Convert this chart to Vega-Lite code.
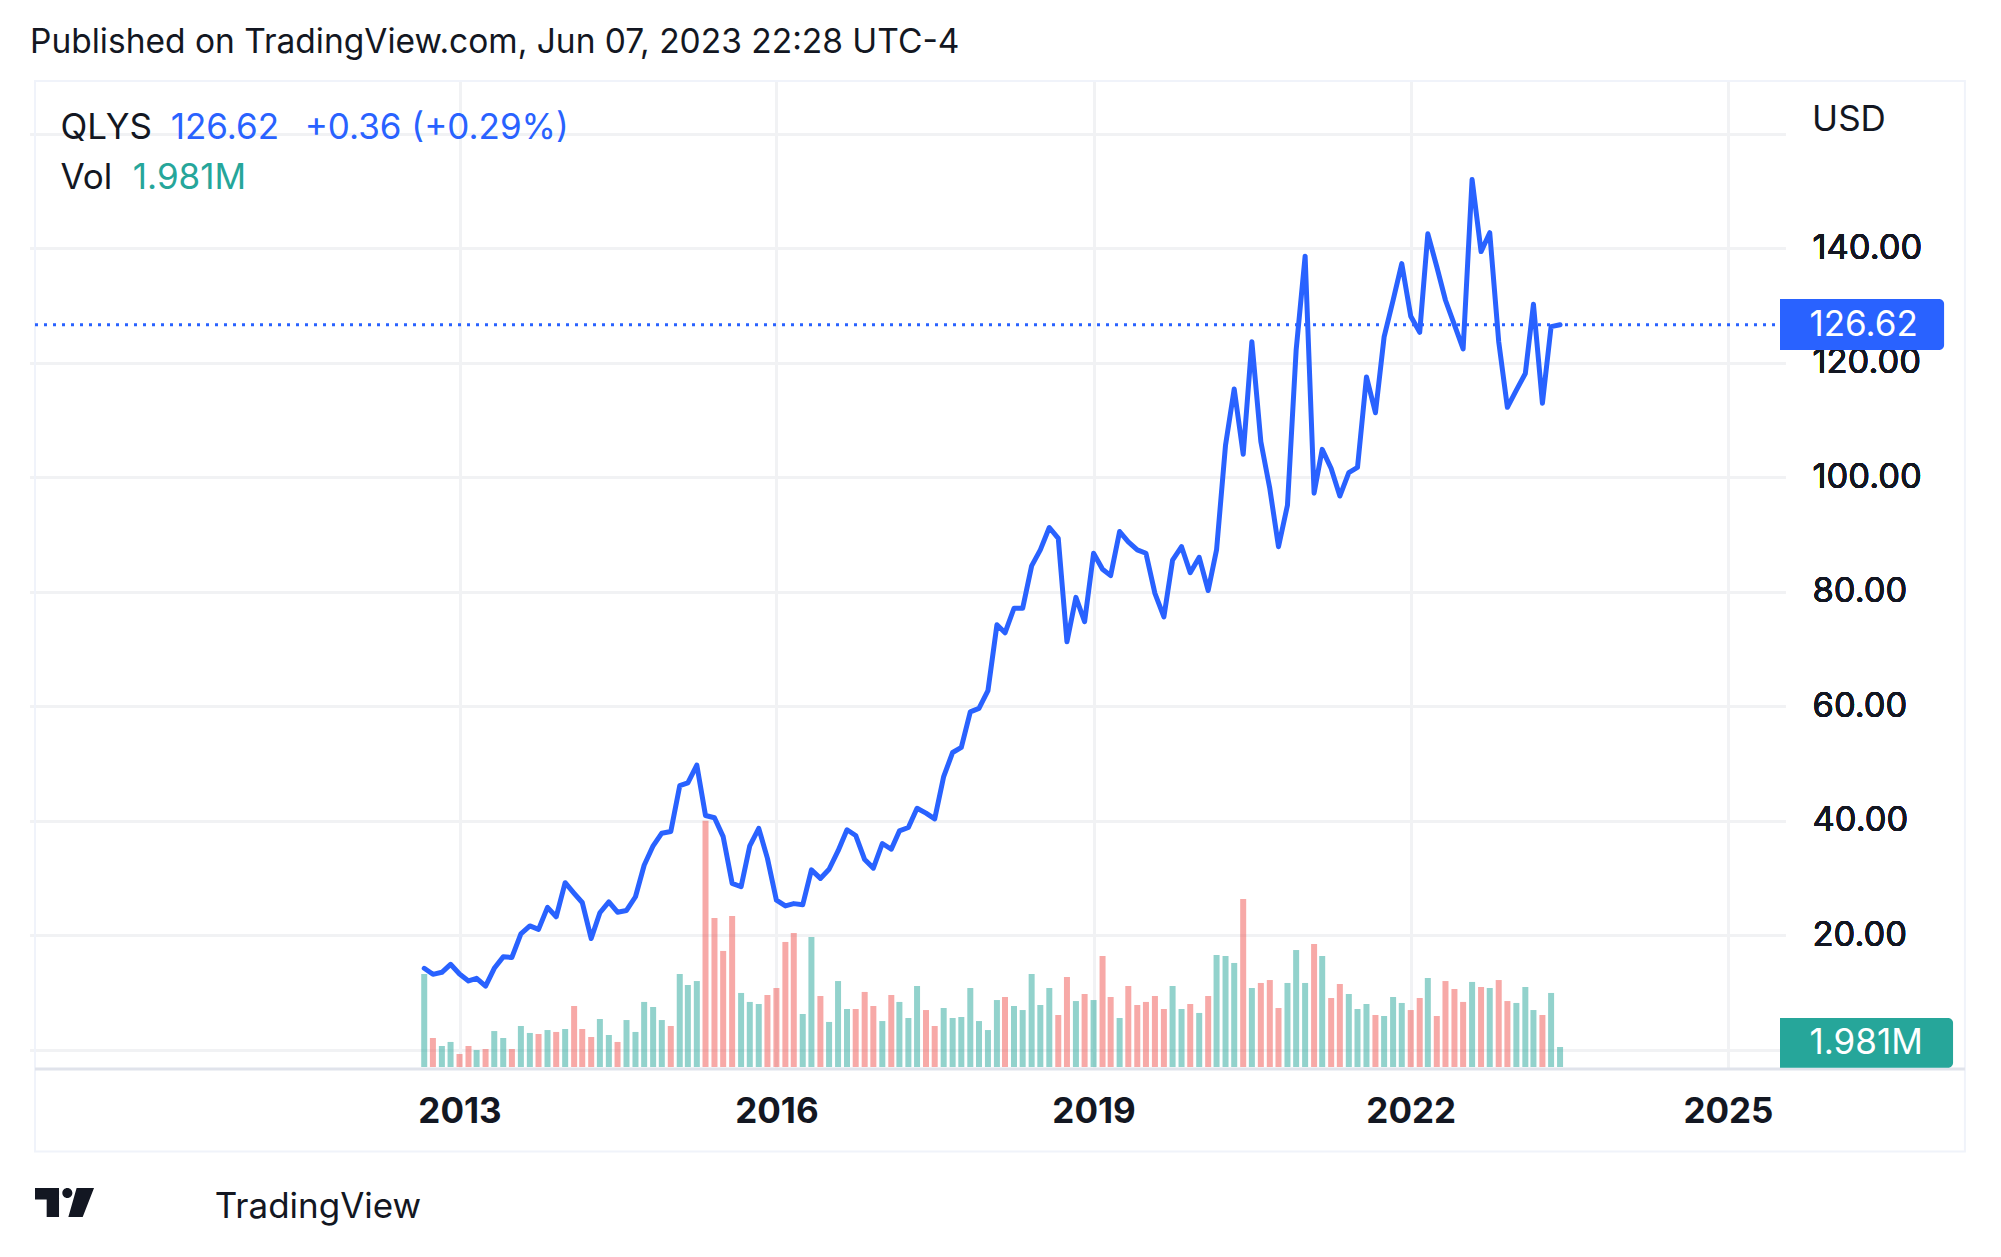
{
  "$schema": "https://vega.github.io/schema/vega-lite/v6.json",
  "description": "QLYS monthly close and volume, TradingView style",
  "width": 1755,
  "height": 988,
  "autosize": "none",
  "padding": {"left": 30, "top": 81, "right": 216, "bottom": 188},
  "background": "#ffffff",
  "title": {
    "text": "Published on TradingView.com, Jun 07, 2023 22:28 UTC-4",
    "anchor": "start",
    "frame": "group",
    "font": "Inter",
    "fontSize": 33.5,
    "fontWeight": "normal",
    "color": "#131722",
    "offset": 20
  },
  "config": {"view": {"stroke": null}},
  "datasets": {
    "series": [
      {"date": "2012-09-01", "price": 14.2, "volume": 9.21, "kind": "up"},
      {"date": "2012-10-01", "price": 13.15, "volume": 2.87, "kind": "down"},
      {"date": "2012-11-01", "price": 13.5, "volume": 2.08, "kind": "up"},
      {"date": "2012-12-01", "price": 14.9, "volume": 2.48, "kind": "up"},
      {"date": "2013-01-01", "price": 13.2, "volume": 1.29, "kind": "down"},
      {"date": "2013-02-01", "price": 12.0, "volume": 2.08, "kind": "down"},
      {"date": "2013-03-01", "price": 12.45, "volume": 1.68, "kind": "up"},
      {"date": "2013-04-01", "price": 11.1, "volume": 1.78, "kind": "down"},
      {"date": "2013-05-01", "price": 14.2, "volume": 3.56, "kind": "up"},
      {"date": "2013-06-01", "price": 16.2, "volume": 2.87, "kind": "up"},
      {"date": "2013-07-01", "price": 16.1, "volume": 1.78, "kind": "down"},
      {"date": "2013-08-01", "price": 20.2, "volume": 4.06, "kind": "up"},
      {"date": "2013-09-01", "price": 21.6, "volume": 3.37, "kind": "up"},
      {"date": "2013-10-01", "price": 21.0, "volume": 3.27, "kind": "down"},
      {"date": "2013-11-01", "price": 24.85, "volume": 3.66, "kind": "up"},
      {"date": "2013-12-01", "price": 23.2, "volume": 3.47, "kind": "down"},
      {"date": "2014-01-01", "price": 29.15, "volume": 3.76, "kind": "up"},
      {"date": "2014-02-01", "price": 27.3, "volume": 6.04, "kind": "down"},
      {"date": "2014-03-01", "price": 25.7, "volume": 3.76, "kind": "down"},
      {"date": "2014-04-01", "price": 19.4, "volume": 2.97, "kind": "down"},
      {"date": "2014-05-01", "price": 23.9, "volume": 4.75, "kind": "up"},
      {"date": "2014-06-01", "price": 25.8, "volume": 3.17, "kind": "up"},
      {"date": "2014-07-01", "price": 24.0, "volume": 2.48, "kind": "down"},
      {"date": "2014-08-01", "price": 24.3, "volume": 4.65, "kind": "up"},
      {"date": "2014-09-01", "price": 26.7, "volume": 3.47, "kind": "up"},
      {"date": "2014-10-01", "price": 32.2, "volume": 6.44, "kind": "up"},
      {"date": "2014-11-01", "price": 35.6, "volume": 5.94, "kind": "up"},
      {"date": "2014-12-01", "price": 37.8, "volume": 4.65, "kind": "up"},
      {"date": "2015-01-01", "price": 38.1, "volume": 4.06, "kind": "down"},
      {"date": "2015-02-01", "price": 46.1, "volume": 9.21, "kind": "up"},
      {"date": "2015-03-01", "price": 46.6, "volume": 8.12, "kind": "up"},
      {"date": "2015-04-01", "price": 49.7, "volume": 8.51, "kind": "up"},
      {"date": "2015-05-01", "price": 40.9, "volume": 24.39, "kind": "down"},
      {"date": "2015-06-01", "price": 40.5, "volume": 14.75, "kind": "down"},
      {"date": "2015-07-01", "price": 37.2, "volume": 11.49, "kind": "down"},
      {"date": "2015-08-01", "price": 29.05, "volume": 14.95, "kind": "down"},
      {"date": "2015-09-01", "price": 28.45, "volume": 7.33, "kind": "up"},
      {"date": "2015-10-01", "price": 35.6, "volume": 6.44, "kind": "up"},
      {"date": "2015-11-01", "price": 38.65, "volume": 6.24, "kind": "up"},
      {"date": "2015-12-01", "price": 33.4, "volume": 7.13, "kind": "down"},
      {"date": "2016-01-01", "price": 26.1, "volume": 7.82, "kind": "down"},
      {"date": "2016-02-01", "price": 25.1, "volume": 12.38, "kind": "down"},
      {"date": "2016-03-01", "price": 25.5, "volume": 13.27, "kind": "down"},
      {"date": "2016-04-01", "price": 25.3, "volume": 5.25, "kind": "up"},
      {"date": "2016-05-01", "price": 31.4, "volume": 12.87, "kind": "up"},
      {"date": "2016-06-01", "price": 29.9, "volume": 7.03, "kind": "down"},
      {"date": "2016-07-01", "price": 31.5, "volume": 4.46, "kind": "up"},
      {"date": "2016-08-01", "price": 34.7, "volume": 8.51, "kind": "up"},
      {"date": "2016-09-01", "price": 38.4, "volume": 5.74, "kind": "up"},
      {"date": "2016-10-01", "price": 37.4, "volume": 5.74, "kind": "down"},
      {"date": "2016-11-01", "price": 33.2, "volume": 7.43, "kind": "down"},
      {"date": "2016-12-01", "price": 31.7, "volume": 6.04, "kind": "down"},
      {"date": "2017-01-01", "price": 36.0, "volume": 4.55, "kind": "up"},
      {"date": "2017-02-01", "price": 35.0, "volume": 7.13, "kind": "down"},
      {"date": "2017-03-01", "price": 38.2, "volume": 6.44, "kind": "up"},
      {"date": "2017-04-01", "price": 38.8, "volume": 4.85, "kind": "up"},
      {"date": "2017-05-01", "price": 42.15, "volume": 8.02, "kind": "up"},
      {"date": "2017-06-01", "price": 41.3, "volume": 5.64, "kind": "down"},
      {"date": "2017-07-01", "price": 40.3, "volume": 4.06, "kind": "down"},
      {"date": "2017-08-01", "price": 47.7, "volume": 5.84, "kind": "up"},
      {"date": "2017-09-01", "price": 51.9, "volume": 4.85, "kind": "up"},
      {"date": "2017-10-01", "price": 52.8, "volume": 4.95, "kind": "up"},
      {"date": "2017-11-01", "price": 59.0, "volume": 7.82, "kind": "up"},
      {"date": "2017-12-01", "price": 59.6, "volume": 4.55, "kind": "up"},
      {"date": "2018-01-01", "price": 62.7, "volume": 3.66, "kind": "up"},
      {"date": "2018-02-01", "price": 74.2, "volume": 6.63, "kind": "up"},
      {"date": "2018-03-01", "price": 72.8, "volume": 6.93, "kind": "down"},
      {"date": "2018-04-01", "price": 77.1, "volume": 6.04, "kind": "up"},
      {"date": "2018-05-01", "price": 77.1, "volume": 5.64, "kind": "up"},
      {"date": "2018-06-01", "price": 84.5, "volume": 9.21, "kind": "up"},
      {"date": "2018-07-01", "price": 87.3, "volume": 6.14, "kind": "up"},
      {"date": "2018-08-01", "price": 91.2, "volume": 7.82, "kind": "up"},
      {"date": "2018-09-01", "price": 89.3, "volume": 5.15, "kind": "down"},
      {"date": "2018-10-01", "price": 71.25, "volume": 8.91, "kind": "down"},
      {"date": "2018-11-01", "price": 79.0, "volume": 6.53, "kind": "up"},
      {"date": "2018-12-01", "price": 74.75, "volume": 7.23, "kind": "down"},
      {"date": "2019-01-01", "price": 86.7, "volume": 6.63, "kind": "up"},
      {"date": "2019-02-01", "price": 83.9, "volume": 10.99, "kind": "down"},
      {"date": "2019-03-01", "price": 82.8, "volume": 6.93, "kind": "down"},
      {"date": "2019-04-01", "price": 90.5, "volume": 4.85, "kind": "up"},
      {"date": "2019-05-01", "price": 88.7, "volume": 8.02, "kind": "down"},
      {"date": "2019-06-01", "price": 87.3, "volume": 6.14, "kind": "down"},
      {"date": "2019-07-01", "price": 86.7, "volume": 6.44, "kind": "down"},
      {"date": "2019-08-01", "price": 79.7, "volume": 7.03, "kind": "down"},
      {"date": "2019-09-01", "price": 75.6, "volume": 5.74, "kind": "down"},
      {"date": "2019-10-01", "price": 85.5, "volume": 8.02, "kind": "up"},
      {"date": "2019-11-01", "price": 87.85, "volume": 5.74, "kind": "up"},
      {"date": "2019-12-01", "price": 83.3, "volume": 6.24, "kind": "down"},
      {"date": "2020-01-01", "price": 86.0, "volume": 5.35, "kind": "up"},
      {"date": "2020-02-01", "price": 80.2, "volume": 7.03, "kind": "down"},
      {"date": "2020-03-01", "price": 87.3, "volume": 11.09, "kind": "up"},
      {"date": "2020-04-01", "price": 105.6, "volume": 10.99, "kind": "up"},
      {"date": "2020-05-01", "price": 115.4, "volume": 10.3, "kind": "up"},
      {"date": "2020-06-01", "price": 104.0, "volume": 16.63, "kind": "down"},
      {"date": "2020-07-01", "price": 123.65, "volume": 7.82, "kind": "up"},
      {"date": "2020-08-01", "price": 106.2, "volume": 8.32, "kind": "down"},
      {"date": "2020-09-01", "price": 98.0, "volume": 8.61, "kind": "down"},
      {"date": "2020-10-01", "price": 87.85, "volume": 5.84, "kind": "down"},
      {"date": "2020-11-01", "price": 95.1, "volume": 8.32, "kind": "up"},
      {"date": "2020-12-01", "price": 122.2, "volume": 11.58, "kind": "up"},
      {"date": "2021-01-01", "price": 138.6, "volume": 8.32, "kind": "up"},
      {"date": "2021-02-01", "price": 97.2, "volume": 12.18, "kind": "down"},
      {"date": "2021-03-01", "price": 104.85, "volume": 10.99, "kind": "up"},
      {"date": "2021-04-01", "price": 101.5, "volume": 6.83, "kind": "down"},
      {"date": "2021-05-01", "price": 96.7, "volume": 8.22, "kind": "down"},
      {"date": "2021-06-01", "price": 100.8, "volume": 7.23, "kind": "up"},
      {"date": "2021-07-01", "price": 101.7, "volume": 5.74, "kind": "up"},
      {"date": "2021-08-01", "price": 117.5, "volume": 6.24, "kind": "up"},
      {"date": "2021-09-01", "price": 111.25, "volume": 5.15, "kind": "down"},
      {"date": "2021-10-01", "price": 124.5, "volume": 5.05, "kind": "up"},
      {"date": "2021-11-01", "price": 130.9, "volume": 6.93, "kind": "up"},
      {"date": "2021-12-01", "price": 137.3, "volume": 6.34, "kind": "up"},
      {"date": "2022-01-01", "price": 128.1, "volume": 5.64, "kind": "down"},
      {"date": "2022-02-01", "price": 125.3, "volume": 6.83, "kind": "down"},
      {"date": "2022-03-01", "price": 142.5, "volume": 8.81, "kind": "up"},
      {"date": "2022-04-01", "price": 136.75, "volume": 5.05, "kind": "down"},
      {"date": "2022-05-01", "price": 130.9, "volume": 8.51, "kind": "down"},
      {"date": "2022-06-01", "price": 126.6, "volume": 7.72, "kind": "down"},
      {"date": "2022-07-01", "price": 122.4, "volume": 6.44, "kind": "down"},
      {"date": "2022-08-01", "price": 152.0, "volume": 8.42, "kind": "up"},
      {"date": "2022-09-01", "price": 139.4, "volume": 7.92, "kind": "down"},
      {"date": "2022-10-01", "price": 142.7, "volume": 7.82, "kind": "up"},
      {"date": "2022-11-01", "price": 123.65, "volume": 8.61, "kind": "down"},
      {"date": "2022-12-01", "price": 112.2, "volume": 6.53, "kind": "down"},
      {"date": "2023-01-01", "price": 115.2, "volume": 6.34, "kind": "up"},
      {"date": "2023-02-01", "price": 118.1, "volume": 7.92, "kind": "up"},
      {"date": "2023-03-01", "price": 130.2, "volume": 5.64, "kind": "up"},
      {"date": "2023-04-01", "price": 112.9, "volume": 5.15, "kind": "down"},
      {"date": "2023-05-01", "price": 126.3, "volume": 7.33, "kind": "up"},
      {"date": "2023-06-01", "price": 126.62, "volume": 1.98, "kind": "up"}
    ],
    "labels": [
      {"date": "2009-03-24", "price": 161.0, "label": "QLYS", "kind": "ink"},
      {"date": "2010-04-09", "price": 161.0, "label": "126.62", "kind": "quote"},
      {"date": "2011-07-16", "price": 161.0, "label": "+0.36 (+0.29%)", "kind": "quote"},
      {"date": "2009-03-24", "price": 152.2, "label": "Vol", "kind": "ink"},
      {"date": "2009-11-29", "price": 152.2, "label": "1.981M", "kind": "up"},
      {"date": "2025-10-19", "price": 162.4, "label": "USD", "kind": "ink"},
      {"date": "2025-10-10", "price": 126.62, "label": "126.62", "kind": "paper"},
      {"date": "2025-10-10", "price": 1.15, "label": "1.981M", "kind": "paper"},
      {"date": "2010-09-08", "price": -27.5, "label": "TradingView", "kind": "ink"}
    ]
  },
  "data": {"name": "series"},
  "encoding": {
    "x": {
      "field": "date",
      "type": "temporal",
      "title": null,
      "scale": {
        "type": "utc",
        "domain": [
          {"year": 2008, "month": 12, "date": 26, "utc": true},
          {"year": 2025, "month": 6, "date": 30, "utc": true}
        ]
      },
      "axis": {
        "values": [
          {"year": 2013, "month": 1, "date": 1, "utc": true},
          {"year": 2016, "month": 1, "date": 1, "utc": true},
          {"year": 2019, "month": 1, "date": 1, "utc": true},
          {"year": 2022, "month": 1, "date": 1, "utc": true},
          {"year": 2025, "month": 1, "date": 1, "utc": true}
        ],
        "format": "%Y",
        "formatType": "utc",
        "domain": false,
        "ticks": false,
        "grid": true,
        "gridColor": "#f1f2f4",
        "gridWidth": 3,
        "labelFont": "Inter",
        "labelFontSize": 35,
        "labelFontWeight": "bold",
        "labelColor": "#131722",
        "labelPadding": 25,
        "labelOverlap": false,
        "labelFlush": false,
        "labelBound": false
      }
    },
    "y": {
      "field": "price",
      "type": "quantitative",
      "title": null,
      "scale": {"domain": [-3.39, 169.2], "zero": false, "nice": false},
      "axis": {
        "orient": "right",
        "values": [0, 20, 40, 60, 80, 100, 120, 140, 160],
        "labelExpr": "datum.value >= 20 && datum.value <= 140 ? format(datum.value, '.2f') : ''",
        "domain": false,
        "ticks": false,
        "grid": true,
        "gridColor": "#f1f2f4",
        "gridWidth": 3,
        "labelFont": "Inter",
        "labelFontSize": 34.5,
        "labelColor": "#131722",
        "labelAlign": "left",
        "labelPadding": 27,
        "labelOverlap": false,
        "labelFlush": false,
        "labelBound": false
      }
    }
  },
  "layer": [
    {
      "data": {"values": [{"date": "2008-12-26", "date2": "2027-03-31", "price": 169.2, "price2": -17.8}]},
      "mark": {"type": "rect", "filled": false, "stroke": "#f0f3fa", "strokeWidth": 2},
      "encoding": {
        "x2": {"field": "date2"},
        "y2": {"field": "price2"}
      }
    },
    {
      "mark": {"type": "bar", "size": 6, "opacity": 0.5},
      "encoding": {
        "y": {
          "field": "volume",
          "type": "quantitative",
          "stack": null,
          "axis": null,
          "scale": {"domain": [-0.198, 97.62], "zero": false, "nice": false}
        },
        "color": {
          "field": "kind",
          "type": "nominal",
          "legend": null,
          "scale": {
            "domain": ["up", "down", "ink", "quote", "paper"],
            "range": ["#26a69a", "#ef5350", "#131722", "#2962ff", "#ffffff"]
          }
        }
      }
    },
    {
      "data": {"values": [{"date": "2008-12-26", "date2": "2027-03-31", "price": -3.39}]},
      "mark": {"type": "rule", "color": "#e0e3eb", "strokeWidth": 3},
      "encoding": {"x2": {"field": "date2"}}
    },
    {
      "data": {"values": [{"date": "2008-12-26", "date2": "2025-06-30", "price": 126.62}]},
      "mark": {"type": "rule", "color": "#2962ff", "strokeWidth": 3, "strokeDash": [3, 6]},
      "encoding": {"x2": {"field": "date2"}}
    },
    {
      "mark": {"type": "line", "color": "#2962ff", "strokeWidth": 5, "strokeJoin": "round", "strokeCap": "round"}
    },
    {
      "data": {"values": [{"date": "2025-06-30", "date2": "2027-01-18", "price": 131.1, "price2": 122.2}]},
      "mark": {"type": "rect", "color": "#2962ff", "cornerRadiusTopRight": 5, "cornerRadiusBottomRight": 5},
      "encoding": {
        "x2": {"field": "date2"},
        "y2": {"field": "price2"}
      }
    },
    {
      "data": {"values": [{"date": "2025-06-30", "date2": "2027-02-18", "price": 5.52, "price2": -3.16}]},
      "mark": {"type": "rect", "color": "#26a69a", "cornerRadiusTopRight": 5, "cornerRadiusBottomRight": 5},
      "encoding": {
        "x2": {"field": "date2"},
        "y2": {"field": "price2"}
      }
    },
    {
      "data": {"name": "labels"},
      "mark": {"type": "text", "font": "Inter", "fontSize": 35, "align": "left", "baseline": "middle"},
      "encoding": {
        "text": {"field": "label"},
        "color": {"field": "kind", "type": "nominal", "legend": null}
      }
    },
    {
      "data": {"values": [{"date": "2009-04-07", "price": -26.7}]},
      "mark": {
        "type": "point",
        "filled": true,
        "opacity": 1,
        "color": "#131722",
        "strokeWidth": 0,
        "size": 3481,
        "shape": "M-1 -.49 H-.186 V.49 H-.605 V-.096 H-1 Z M-.074 -.32 A.17 .17 0 1 0 .266 -.32 A.17 .17 0 1 0 -.074 -.32 Z M.41 -.49 H1 L.616 .49 H.13 Z"
      }
    }
  ],
  "resolve": {"scale": {"y": "independent"}}
}
